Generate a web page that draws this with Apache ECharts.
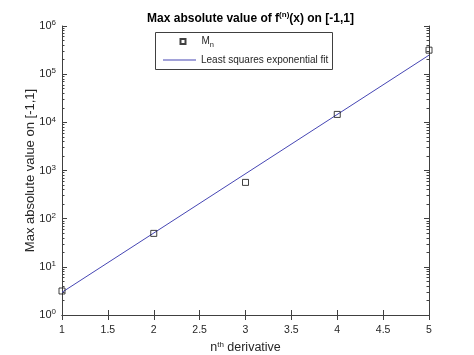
<!DOCTYPE html>
<html><head><meta charset="utf-8">
<script src="https://cdn.jsdelivr.net/npm/echarts@6/dist/echarts.min.js"></script>
<style>html,body{margin:0;padding:0;background:#fff}#c{width:474px;height:355px}</style>
</head><body><div id="c"></div>
<script>
// ---- data ----
const nValues = [1, 2, 3, 4, 5];
const maxAbsValues = [3.15, 49.5, 566, 14600, 315000];
const fitN = [1, 5];
const fitValues = [2.96, 248000];
const xTickLabels = ['1', '1.5', '2', '2.5', '3', '3.5', '4', '4.5', '5'];
const yTickExponents = ['0', '1', '2', '3', '4', '5', '6'];
const seriesNames = ['M_n', 'Least squares exponential fit'];

const FONT = 'Liberation Sans, Arial, sans-serif';
const AX = '#404040';
const TXT = '#262626';
const LINE = '#4646b4';

const minorTickPos = [];
for (let d = 0; d < 6; d++) for (let k = 2; k <= 9; k++) minorTickPos.push(d + Math.log10(k));

const chart = echarts.init(document.getElementById('c'), null, {renderer: 'canvas'});

const grid = {left: 62, right: 45, top: 26, bottom: 40, containLabel: false, outerBoundsMode: 'none'};

const xBase = {
  type: 'value', min: 1, max: 5, interval: 0.5,
  splitLine: {show: false},
  axisLine: {show: true, lineStyle: {color: AX, width: 1}},
  axisTick: {show: true, inside: true, length: 5, lineStyle: {color: AX}},
};
const yLogBase = {
  type: 'log', logBase: 10, min: 1, max: 1000000, splitNumber: 6,
  splitLine: {show: false},
  axisLine: {show: true, lineStyle: {color: AX, width: 1}},
  axisTick: {show: true, inside: true, length: 5, lineStyle: {color: AX}},
};
const yMinor = {
  type: 'value', min: 0, max: 6,
  splitLine: {show: false},
  axisLine: {show: false},
  axisLabel: {show: false},
  axisTick: {show: true, inside: true, length: 2.5, customValues: minorTickPos, lineStyle: {color: AX}},
};

const option = {
  backgroundColor: '#fff',
  animation: false,
  textStyle: {fontFamily: FONT},
  title: {
    text: '{b|Max absolute value of f}{s|(n)}{b|(x) on [-1,1]}',
    left: 245.5, top: 6, textAlign: 'center',
    textStyle: {
      rich: {
        b: {fontFamily: FONT, fontSize: 12, fontWeight: 'bold', color: '#000', lineHeight: 15},
        s: {fontFamily: FONT, fontSize: 8, fontWeight: 'bold', color: '#000', lineHeight: 9, verticalAlign: 'top'}
      }
    }
  },
  grid: grid,
  xAxis: [
    Object.assign({}, xBase, {
      position: 'bottom',
      name: '{b|n}{s|th}{b| derivative}',
      nameLocation: 'middle', nameGap: 26, nameMoveOverlap: false,
      nameTextStyle: {
        rich: {
          b: {fontFamily: FONT, fontSize: 12.5, color: TXT, lineHeight: 14},
          s: {fontFamily: FONT, fontSize: 8, color: TXT, lineHeight: 8, verticalAlign: 'top'}
        }
      },
      axisLabel: {
        show: true, margin: 10, color: TXT, fontFamily: FONT, fontSize: 10.5,
        formatter: (v, i) => xTickLabels[i] !== undefined ? xTickLabels[i] : String(v)
      }
    }),
    Object.assign({}, xBase, {position: 'top', axisLabel: {show: false}})
  ],
  yAxis: [
    Object.assign({}, yLogBase, {
      position: 'left',
      name: 'Max absolute value on [-1,1]',
      nameLocation: 'middle', nameGap: 25, nameMoveOverlap: false,
      nameTextStyle: {fontFamily: FONT, fontSize: 13, color: TXT},
      axisLabel: {
        show: true, margin: 6, color: TXT,
        formatter: (v, i) => '{b|10}{s|' + (yTickExponents[i] !== undefined ? yTickExponents[i] : Math.round(Math.log10(v))) + '}',
        rich: {
          b: {fontFamily: FONT, fontSize: 11, color: TXT, lineHeight: 14},
          s: {fontFamily: FONT, fontSize: 8, color: TXT, lineHeight: 8, verticalAlign: 'top'}
        }
      }
    }),
    Object.assign({}, yLogBase, {position: 'right', axisLabel: {show: false}}),
    Object.assign({}, yMinor, {position: 'left'}),
    Object.assign({}, yMinor, {position: 'right'})
  ],
  legend: [
    {
      data: [{name: seriesNames[0], icon: 'rect'}],
      left: 179.5, top: 36.5, padding: 0, orient: 'vertical',
      itemWidth: 5, itemHeight: 5, itemGap: 0,
      formatter: () => '{p| }{b|M}{s|n}',
      textStyle: {
        rich: {
          p: {width: 11, fontSize: 10, lineHeight: 14},
          b: {fontFamily: FONT, fontSize: 10, color: TXT, lineHeight: 14},
          s: {fontFamily: FONT, fontSize: 7.5, color: TXT, lineHeight: 7, verticalAlign: 'bottom'}
        }
      }
    },
    {
      data: [{name: seriesNames[1], icon: 'rect'}],
      left: 163, top: 53, padding: 0, orient: 'vertical',
      itemWidth: 33, itemHeight: 1, itemGap: 0,
      textStyle: {fontFamily: FONT, fontSize: 10, color: TXT, lineHeight: 14}
    }
  ],
  graphic: [
    {
      type: 'rect', z: 3,
      shape: {x: 155.5, y: 32.5, width: 177, height: 37},
      style: {fill: '#fff', stroke: AX, lineWidth: 1}
    }
  ],
  series: [
    {
      name: seriesNames[1], type: 'line',
      xAxisIndex: 0, yAxisIndex: 0,
      data: fitN.map((n, i) => [n, fitValues[i]]),
      symbol: 'none', showSymbol: false,
      lineStyle: {color: LINE, width: 1},
      itemStyle: {color: LINE},
      z: 2
    },
    {
      name: seriesNames[0], type: 'scatter',
      xAxisIndex: 0, yAxisIndex: 0,
      data: nValues.map((n, i) => [n, maxAbsValues[i]]),
      symbol: 'rect', symbolSize: 6, clip: false,
      itemStyle: {color: 'rgba(255,255,255,0)', borderColor: '#111', borderWidth: 1},
      z: 3
    }
  ]
};
chart.setOption(option);
</script>
</body></html>
